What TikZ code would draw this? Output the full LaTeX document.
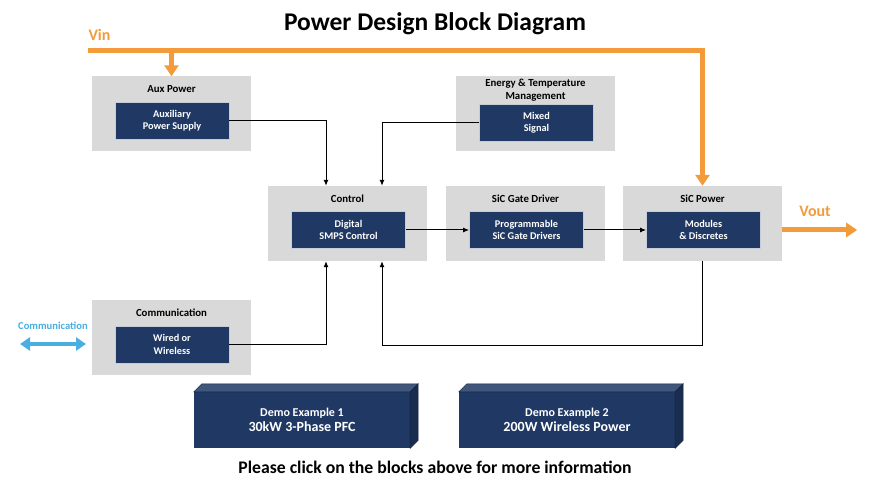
\documentclass[tikz,border=0pt]{standalone}
\usepackage{fontspec}
\setmainfont{Carlito}
\usetikzlibrary{arrows.meta}
\definecolor{navy}{HTML}{1F3864}
\definecolor{boxgray}{HTML}{D9D9D9}
\definecolor{vinorange}{HTML}{F39B3B}
\definecolor{commblue}{HTML}{4BAEE3}
\tikzset{
  outer/.style={fill=boxgray, minimum width=159pt, minimum height=75pt, inner sep=0pt},
  inner/.style={fill=navy, draw=white!75!navy, line width=0.8pt, minimum width=114pt,
    minimum height=37pt, text=white, font=\fontsize{10.3}{12.5}\selectfont\bfseries,
    align=center, inner sep=0pt},
  head/.style={font=\fontsize{10.8}{13.5}\selectfont\bfseries, align=center},
  wire/.style={line width=1pt, -{Latex[length=6pt,width=5pt]}},
  power/.style={vinorange, line width=5pt, -{Triangle[length=11pt,width=14pt]}},
  demo/.style={fill=navy, minimum width=216pt, minimum height=56pt, text=white, align=center, inner sep=0pt},
}

\begin{document}
\begin{tikzpicture}[x=1pt,y=-1pt]
  \useasboundingbox[fill=white] (0,0) rectangle (870,489);
  \node[font=\fontsize{25.5}{30}\selectfont\bfseries] (title) at (435,24) {Power Design Block Diagram};

  % gray blocks
  \node[outer] (aux) at (171.5,114) {};
  \node[outer] (energy) at (535.5,114) {};
  \node[outer] (ctrl) at (347.5,223.5) {};
  \node[outer] (gate) at (525.5,223.5) {};
  \node[outer] (sicpow) at (702.5,223.5) {};
  \node[outer] (comm) at (171.5,337.5) {};

  % block titles
  \node[head] (auxhd) at (171.5,89) {Aux Power};
  \node[head] (energyhd) at (535.5,90) {Energy \& Temperature\\Management};
  \node[head] (ctrlhd) at (347.5,199) {Control};
  \node[head] (gatehd) at (525.5,199) {SiC Gate Driver};
  \node[head] (sicpowhd) at (702.5,199) {SiC Power};
  \node[head] (commhd) at (171.5,313) {Communication};

  % inner blocks
  \node[inner] (auxin) at (172,120.5) {Auxiliary\\Power Supply};
  \node[inner] (mixed) at (536.5,123) {Mixed\\Signal};
  \node[inner] (smps) at (348.5,230) {Digital\\SMPS Control};
  \node[inner] (drivers) at (526.5,230) {Programmable\\SiC Gate Drivers};
  \node[inner] (modules) at (703.5,230) {Modules\\\& Discretes};
  \node[inner] (wired) at (172,344.5) {Wired or\\Wireless};

  % signal paths
  \draw[wire] (auxin.east) -| ([xshift=-21.5pt]ctrl.north);
  \draw[wire] (mixed.west) -| ([xshift=34.5pt]ctrl.north);
  \draw[wire] (smps.east) -- (drivers.west);
  \draw[wire] (drivers.east) -- (modules.west);
  \draw[wire] (sicpow.south) -- ++(0,84) -| ([xshift=34.5pt]ctrl.south);
  \draw[wire] (wired.east) -| ([xshift=-21.5pt]ctrl.south);

  % power in / out
  \coordinate (vinstart) at (88,51);
  \node[text=vinorange, font=\fontsize{16}{19}\selectfont\bfseries, anchor=west] (vin) at (85,35) {Vin};
  \draw[power] (vinstart) -| (sicpow.north);
  \draw[power] (aux.north |- vinstart) -- (aux.north);
  \node[text=vinorange, font=\fontsize{16}{19}\selectfont\bfseries] (vout) at (815,211) {Vout};
  \draw[power] (modules.east -| sicpow.east) -- ++(75,0);

  % communication
  \node[text=commblue, font=\fontsize{10.6}{12}\selectfont\bfseries] (commlbl) at (53,326) {Communication};
  \coordinate (commL) at (20,344);
  \coordinate (commR) at (86,344);
  \draw[commblue, line width=4.5pt, {Triangle[length=10pt,width=13pt]}-{Triangle[length=10pt,width=13pt]}] (commL) -- (commR);

  % demo blocks
  \node[demo] (demoA) at (302,420) {\fontsize{12}{14}\selectfont\bfseries Demo Example 1\\[3pt]\fontsize{14}{16}\selectfont\bfseries 30kW 3-Phase PFC};
  \node[demo] (demoB) at (567,420) {\fontsize{12}{14}\selectfont\bfseries Demo Example 2\\[3pt]\fontsize{14}{16}\selectfont\bfseries 200W Wireless Power};
  \foreach \d in {demoA,demoB} {
    \fill[navy!85!white, draw=navy!60!black, line width=0.5pt] (\d.north west) -- ++(8,-8) -- ([shift={(8,-8)}]\d.north east) -- (\d.north east) -- cycle;
    \fill[navy!80!black, draw=navy!60!black, line width=0.5pt] (\d.north east) -- ++(8,-8) -- ([shift={(8,-8)}]\d.south east) -- (\d.south east) -- cycle;
  }
  \node[font=\fontsize{17.7}{21}\selectfont\bfseries] (note) at (435,467) {Please click on the blocks above for more information};
\end{tikzpicture}
\end{document}
